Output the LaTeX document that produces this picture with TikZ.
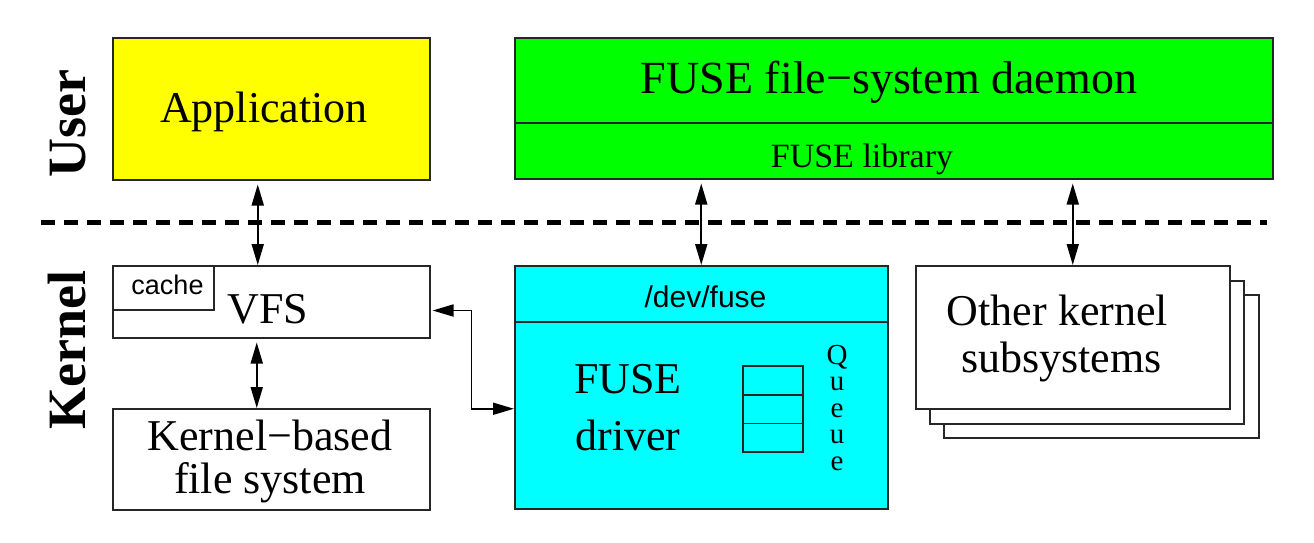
\documentclass[tikz,border=0pt]{standalone}
\usepackage{fontspec}
\setmainfont{Liberation Serif}
\newfontfamily\serifrm{Liberation Serif}
\newfontfamily\sansf{Liberation Sans}
\usetikzlibrary{arrows.meta,calc}
\definecolor{appyellow}{RGB}{255,255,0}
\definecolor{fusegreen}{RGB}{0,255,0}
\definecolor{fusecyan}{RGB}{0,255,255}
\tikzset{
  boxshape/.style={draw=black!85, line width=1.5pt, inner sep=0pt, anchor=north west},
  lbl/.style={anchor=base, inner sep=0pt, font=\serifrm\fontsize{44}{44}\selectfont},
  sidelbl/.style={anchor=base, rotate=90, inner sep=0pt, font=\serifrm\fontsize{54}{54}\selectfont\bfseries},
  biarrow/.style={line width=1.8pt, {Triangle[length=21pt,width=12pt]}-{Triangle[length=21pt,width=12pt]}},
  sepline/.style={line width=5pt, dash pattern=on 14pt off 9pt},
  divider/.style={line width=1.5pt, draw=black!85}
}
\begin{document}
\begin{tikzpicture}[x=1pt,y=-1pt]
\useasboundingbox (0,0) rectangle (1314,542);

% side labels
\node[sidelbl] (userlbl) at (85,123.5) {User};
\node[sidelbl] (kernlbl) at (85,350) {Kernel};

% separator
\coordinate (dl) at (41,222);
\coordinate (dr) at (1267,222);
\draw[sepline] (dl) -- (dr);

% Application
\node[boxshape, fill=appyellow, minimum width=317, minimum height=142] (app) at (112,37) {};
\node[lbl] (applbl) at (264,122) {Application};

% FUSE daemon
\node[boxshape, fill=fusegreen, minimum width=758, minimum height=141] (daemon) at (514,37) {};
\coordinate (dsepl) at (514,123);
\coordinate (dsepr) at (1272,123);
\draw[divider] (dsepl) -- (dsepr);
\node[lbl, font=\serifrm\fontsize{46}{46}\selectfont] (daemonlbl) at (889,93) {FUSE file−system daemon};
\node[lbl, font=\serifrm\fontsize{34}{34}\selectfont] (liblbl) at (862,167) {FUSE library};

% VFS
\node[boxshape, fill=white, minimum width=317, minimum height=72] (vfs) at (112,265) {};
\node[boxshape, fill=white, minimum width=101, minimum height=44] (cache) at (112,265) {};
\node[lbl, font=\sansf\fontsize{27}{27}\selectfont] (cachelbl) at (167.5,294) {cache};
\node[lbl] (vfslbl) at (268,323) {VFS};

% Kernel-based file system
\node[boxshape, fill=white, minimum width=317, minimum height=101] (kfs) at (112,408) {};
\node[lbl] (kfslbla) at (270,450) {Kernel−based};
\node[lbl] (kfslblb) at (270,493) {file system};

% /dev/fuse + FUSE driver
\node[boxshape, fill=fusecyan, minimum width=373, minimum height=243] (devfuse) at (514,265) {};
\coordinate (fsepl) at (514,322);
\coordinate (fsepr) at (887,322);
\draw[divider] (fsepl) -- (fsepr);
\node[lbl, font=\sansf\fontsize{30}{30}\selectfont] (devlbl) at (705.5,307) {/dev/fuse};
\node[lbl] (drvlbla) at (628,393) {FUSE};
\node[lbl] (drvlblb) at (628,450) {driver};

% queue
\node[boxshape, minimum width=60, minimum height=29] (qa) at (742,365) {};
\node[boxshape, minimum width=60, minimum height=28.5] (qb) at (742,394) {};
\node[boxshape, minimum width=60, minimum height=28.5] (qc) at (742,422.5) {};
\node[anchor=north, inner sep=0pt, align=center, font=\serifrm\fontsize{29}{26.5}\selectfont] (queuelbl) at (837,345) {Q\\u\\e\\u\\e};

% Other kernel subsystems (stack)
\node[boxshape, fill=white, minimum width=315, minimum height=143] (other3) at (943,294) {};
\node[boxshape, fill=white, minimum width=314, minimum height=143] (other2) at (929,280) {};
\node[boxshape, fill=white, minimum width=314, minimum height=143] (other) at (915,265) {};
\node[lbl] (otherlbla) at (1057.5,325) {Other kernel};
\node[lbl] (otherlblb) at (1061.5,372) {subsystems};

% connectors
\draw[biarrow] ([xshift=-13.5pt,yshift=-4pt]app.south) -- ([xshift=-13.5pt]vfs.north);
\draw[biarrow] ([xshift=-14.5pt,yshift=-4pt]vfs.south) -- ([xshift=-14.5pt]kfs.north);
\draw[biarrow] ([yshift=-4pt]daemon.south -| devfuse.north) -- (devfuse.north);
\draw[biarrow] ([yshift=-4pt]daemon.south -| other.north) -- (other.north);
\draw[biarrow] ([xshift=2pt]vfs.east |- cache.south) -- ++(39,0) |- ([yshift=-21.5pt]devfuse.west);
\end{tikzpicture}
\end{document}
